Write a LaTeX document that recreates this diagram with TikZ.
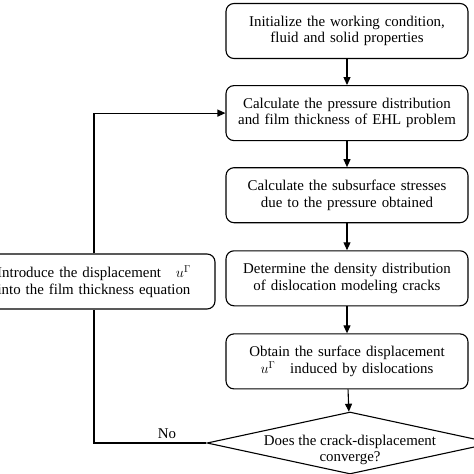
\documentclass[tikz,border=0pt]{standalone}
\usepackage{fontspec}
\setmainfont{Liberation Serif}
\usetikzlibrary{positioning,shapes.geometric,arrows.meta}

\begin{document}
\begin{tikzpicture}
[
    x=1pt, y=1pt,
    node distance=26pt,
    box/.style={draw, rounded corners=8pt, line width=1.1pt, minimum width=242pt,
        minimum height=55pt, text width=236pt, align=center, inner sep=0pt,
        font=\fontsize{14.9}{16.5}\selectfont},
    decision/.style={draw, diamond, aspect=4.6, line width=1.1pt, inner xsep=8pt,
        inner ysep=-13pt, minimum width=286pt, minimum height=62pt, align=center,
        font=\fontsize{14.9}{16.5}\selectfont},
    link/.style={line width=1.1pt, -{Triangle[length=8pt,width=7pt]}},
    loop/.style={line width=1.1pt},
]
\useasboundingbox (0,0) rectangle (474,-474);

\node [box] (init) at (347,-31)
{Initialize the working condition,\\ fluid and solid properties};
\node [box, below=of init] (pressure)
{Calculate the pressure distribution\\ and film thickness of EHL problem};
\node [box, below=of pressure] (stress)
{Calculate the subsurface stresses\\ due to the pressure obtained};
\node [box, below=27pt of stress] (density)
{Determine the density distribution\\ of dislocation modeling cracks};
\node [box, below=27pt of density] (surface)
{Obtain the surface displacement\\ $u^{\Gamma}$\quad induced by dislocations};
\node [decision] (converge) at (350,-443)
{\rule{0pt}{24pt}Does the crack-displacement\\ converge?};
\node [box] (introduce) at (94,-281.5)
{Introduce the displacement\quad $u^{\Gamma}$\\ into the film thickness equation};

\draw [link] (init) -- (pressure);
\draw [link] (pressure) -- (stress);
\draw [link] (stress) -- (density);
\draw [link] (density) -- (surface);
\draw [link] (surface) -- (converge);

\draw [loop] (converge.west) -- node [above, pos=0.35, font=\fontsize{14.9}{16.5}\selectfont] {No}
    (converge.west -| introduce) -- (introduce.south);
\draw [link] (introduce.north) |- (pressure.west);
\end{tikzpicture}
\end{document}
